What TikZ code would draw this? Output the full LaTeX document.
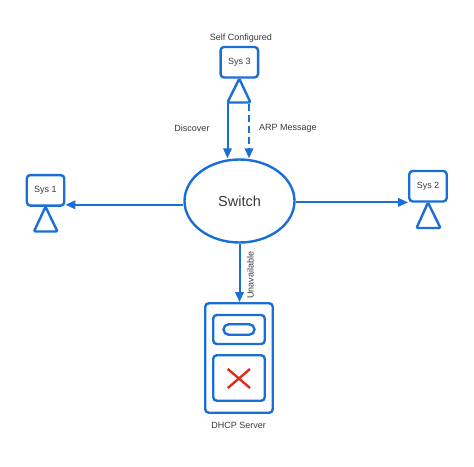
\documentclass[tikz,border=0pt]{standalone}
\usepackage{fontspec}
\setmainfont{Liberation Sans}
\usetikzlibrary{arrows.meta,shapes.geometric,shapes.misc}
\definecolor{lineblue}{HTML}{1A6FD6}
\definecolor{crossred}{HTML}{DC2E1C}
\definecolor{labelgrey}{HTML}{3A3A3A}
\tikzset{
  x=1pt,y=-1pt,
  boxstyle/.style={draw=lineblue,line width=2.4pt,rounded corners=3.5pt,fill=white,inner sep=0pt,text=labelgrey,font=\fontsize{9}{11}\selectfont,minimum width=37.5pt,minimum height=30.5pt},
  plainbox/.style={draw=lineblue,line width=2.4pt,rounded corners=3.5pt,inner sep=0pt},
  tri/.style={draw=lineblue,line width=2.4pt,line join=round,rounded corners=1.2pt},
  conn/.style={draw=lineblue,line width=2pt,-{Triangle[length=10pt,width=8.5pt]}},
  lbl/.style={text=labelgrey,font=\fontsize{9}{11}\selectfont,inner sep=0pt}
}
\begin{document}
\begin{tikzpicture}
\useasboundingbox[fill=white] (0,0) rectangle (474,466);
% Systems
\node[boxstyle] (sys3) at (239.3,62.2) {Sys 3};
\node[boxstyle] (sys1) at (45.5,190.3) {Sys 1};
\node[boxstyle] (sys2) at (428,186.2) {Sys 2};
% Triangles
\coordinate (t3l) at (227.5,102.5);
\coordinate (t3r) at (250.5,102.5);
\coordinate (t1l) at (34,231.5);
\coordinate (t1r) at (57.5,231.5);
\coordinate (t2l) at (416.5,228);
\coordinate (t2r) at (440.5,228);
\draw[tri] (sys3.south) -- (t3r) -- (t3l) -- cycle;
\draw[tri] (sys1.south) -- (t1r) -- (t1l) -- cycle;
\draw[tri] (sys2.south) -- (t2r) -- (t2l) -- cycle;
% Switch
\node[ellipse,draw=lineblue,line width=2.4pt,minimum width=110pt,minimum height=83pt,inner sep=0pt,font=\fontsize{14.5}{17}\selectfont,text=labelgrey] (sw) at (239.5,201) {Switch};
% DHCP server
\node[plainbox,minimum width=67.5pt,minimum height=109.5pt] (srv) at (239,358) {};
\node[plainbox,minimum width=51.5pt,minimum height=29pt] (slot) at (239,329.5) {};
\node[rounded rectangle,draw=lineblue,line width=2.4pt,minimum width=31pt,minimum height=10.5pt,inner sep=0pt] (pill) at (239,329.5) {};
\node[plainbox,minimum width=51.5pt,minimum height=45.5pt] (bay) at (239,378) {};
\draw[crossred,line width=2.4pt] (227.8,369) -- (250,388) (250,369) -- (227.8,388);
% Connectors
\coordinate (d3) at (249,104);
\draw[conn] (t3l) -- (t3l |- sw.north);
\draw[conn,dash pattern=on 7pt off 4pt] (d3) -- (d3 |- sw.north);
\draw[conn] (sw.west |- sys1.-36) -- (sys1.-36);
\draw[conn] (sw.east |- sys2.-141) -- (sys2.-141);
\draw[conn] (sw.south) -- (sw.south |- srv.north);
% Labels
\node[lbl] (self) at (241,38.5) {Self Configured};
\node[lbl] (disc) at (192,128.5) {Discover};
\node[lbl] (arp) at (288,128.5) {ARP Message};
\node[lbl,rotate=90] (unav) at (250.5,275) {Unavailable};
\node[lbl] (dhcp) at (238.7,425.5) {DHCP Server};
\end{tikzpicture}
\end{document}
